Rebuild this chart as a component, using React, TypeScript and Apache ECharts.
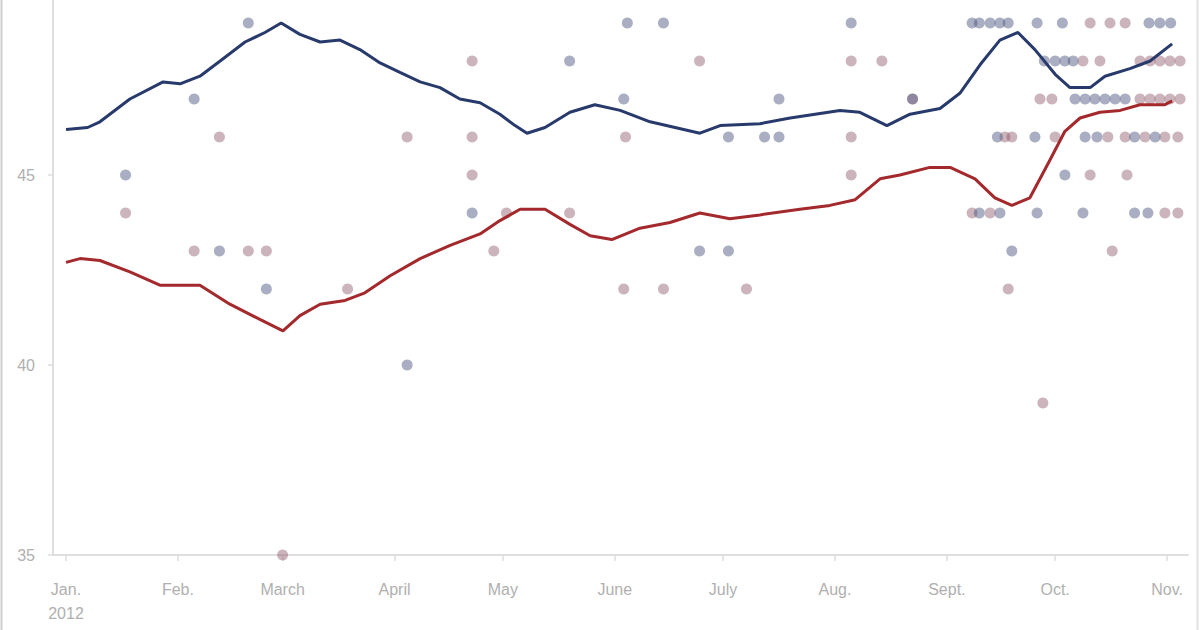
import React, { useEffect, useRef } from "react";
import * as echarts from "echarts";

// Days are counted from Jan. 1, 2012 (day 0).
const monthStarts = [0, 31, 60, 91, 121, 152, 182, 213, 244, 274, 305];
const monthLabels = ["Jan.\n2012", "Feb.", "March", "April", "May", "June", "July", "Aug.", "Sept.", "Oct.", "Nov."];
const yTicks = [35, 40, 45, 50];

// Poll averages
const obamaAvg: [number, number][] = [
  [0, 46.2], [6, 46.25], [9.4, 46.4], [17.7, 47.0], [26.9, 47.45], [31.6, 47.4], [37.1, 47.6],
  [42.7, 48.0], [49.6, 48.5], [55.1, 48.75], [59.6, 49.0], [64.8, 48.7], [70.4, 48.5],
  [75.9, 48.55], [81.4, 48.3], [87, 47.95], [92.5, 47.7], [98.1, 47.45], [103.6, 47.3],
  [109.1, 47.0], [114.7, 46.9], [120.2, 46.6], [124.4, 46.3], [127.7, 46.1], [132.7, 46.25],
  [139.6, 46.65], [146.5, 46.85], [153.5, 46.7], [161.8, 46.4], [168.7, 46.25], [175.6, 46.1],
  [181.2, 46.3], [192.2, 46.35], [200.6, 46.5], [214.4, 46.7], [219.9, 46.65], [227.4, 46.3],
  [233.8, 46.6], [242.1, 46.75], [247.6, 47.15], [253.2, 47.9], [258.7, 48.55], [263.7, 48.75],
  [268.4, 48.3], [274, 47.65], [278.1, 47.3], [283.7, 47.3], [287.8, 47.6], [294.7, 47.8],
  [300.3, 48.0], [306.4, 48.45],
];
const romneyAvg: [number, number][] = [
  [0, 42.7], [3.9, 42.8], [9.4, 42.75], [17.7, 42.45], [26, 42.1], [37.1, 42.1], [45.4, 41.6],
  [53.7, 41.2], [60.1, 40.9], [64.8, 41.3], [70.4, 41.6], [77.3, 41.7], [82.8, 41.9],
  [89.8, 42.35], [98.1, 42.8], [106.4, 43.15], [114.7, 43.45], [120.2, 43.8], [125.8, 44.1],
  [132.7, 44.1], [139.6, 43.7], [145.2, 43.4], [151.2, 43.3], [159, 43.6], [167.3, 43.75],
  [175.6, 44.0], [183.9, 43.85], [192.2, 43.95], [203.3, 44.1], [211.6, 44.2], [218.6, 44.35],
  [225.5, 44.9], [231, 45.0], [239.3, 45.2], [244.9, 45.2], [251.8, 44.9], [257.3, 44.4],
  [262, 44.2], [267, 44.4], [272.6, 45.4], [276.7, 46.15], [280.9, 46.5], [286.4, 46.65],
  [292, 46.7], [297.5, 46.85], [304.4, 46.85], [306.4, 46.95],
];

// Individual polls
const obamaPolls: [number, number][] = [
  [16.5, 45], [35.5, 47], [42.5, 43], [50.5, 49], [55.5, 42], [94.5, 40], [112.5, 44],
  [139.5, 48], [155.5, 49], [154.5, 47], [165.5, 49], [175.5, 43], [183.5, 46], [183.5, 43],
  [193.5, 46], [197.5, 46], [197.5, 47], [217.5, 49], [234.5, 47],
  [251, 49], [253, 49], [256, 49], [258.7, 49], [261, 49], [269, 49], [276, 49], [300, 49], [303, 49], [306, 49],
  [271, 48], [274, 48], [276.7, 48], [279, 48],
  [279.5, 47], [282.3, 47], [285, 47], [287.8, 47], [290.6, 47], [293.4, 47],
  [258, 46], [268.4, 46], [282.3, 46], [285.6, 46], [296, 46], [301.7, 46],
  [276.7, 45],
  [253, 44], [258.7, 44], [269, 44], [281.7, 44], [296, 44], [299.7, 44],
  [262, 43],
];
const romneyPolls: [number, number][] = [
  [16.5, 44], [35.5, 43], [42.5, 46], [50.5, 43], [55.5, 43], [60, 35], [78, 42], [94.5, 46],
  [112.5, 48], [112.5, 46], [112.5, 45], [118.5, 43], [122, 44], [139.5, 44], [155, 46],
  [154.5, 42], [165.5, 42], [175.5, 48], [188.5, 42], [217.5, 48], [217.5, 46], [217.5, 45],
  [226, 48], [234.5, 47],
  [283.7, 49], [289.2, 49], [293.4, 49],
  [281.7, 48], [286.4, 48], [297.5, 48], [300.3, 48], [303, 48], [305.8, 48], [308.6, 48],
  [269.8, 47], [273.1, 47], [297.5, 47], [300.3, 47], [303, 47], [305.8, 47], [308.6, 47],
  [260.1, 46], [262, 46], [274, 46], [288.6, 46], [293.4, 46], [298.9, 46], [304.4, 46], [308, 46],
  [283.7, 45], [293.9, 45],
  [251, 44], [256, 44], [304.4, 44], [308, 44],
  [289.8, 43], [261, 42], [270.6, 39],
];

const OFFSET = 40; // chart div starts above the page so the 50 line is cut off

export default function App() {
  const ref = useRef<HTMLDivElement>(null);

  useEffect(() => {
    document.body.style.margin = "0";
    document.body.style.overflow = "hidden";
    if (!ref.current) return;
    const chart = echarts.init(ref.current, null, { renderer: "svg" });
    const labelMap: Record<number, string> = {};
    monthStarts.forEach((d, i) => (labelMap[d] = monthLabels[i]));
    const axisColor = "#dedede";
    const textColor = "#b0b0b0";
    const font = "'Liberation Sans', Arial, sans-serif";

    chart.setOption({
      animation: false,
      backgroundColor: "#ffffff",
      grid: { left: 53, right: 12, top: OFFSET - 15, bottom: 75 },
      xAxis: {
        type: "value",
        min: -3.6,
        max: 310.8,
        splitLine: { show: false },
        axisLine: { show: true, onZero: false, lineStyle: { color: axisColor, width: 2 } },
        axisTick: { show: true, customValues: monthStarts, length: 6, lineStyle: { color: axisColor, width: 1.5 } },
        axisLabel: {
          customValues: monthStarts,
          formatter: (v: number) => labelMap[v] ?? "",
          color: textColor,
          fontSize: 16,
          lineHeight: 24,
          margin: 22,
          fontFamily: font,
        },
      },
      yAxis: {
        type: "value",
        min: 35,
        max: 50,
        interval: 5,
        splitLine: { show: false },
        axisLine: { show: true, onZero: false, lineStyle: { color: axisColor, width: 2 } },
        axisTick: { show: true, length: 5, lineStyle: { color: axisColor, width: 1.5 } },
        axisLabel: {
          customValues: yTicks,
          color: textColor,
          fontSize: 16,
          margin: 18,
          fontFamily: font,
        },
      },
      graphic: [
        { type: "line", shape: { x1: 1.5, y1: 0, x2: 1.5, y2: 630 + OFFSET }, style: { stroke: "#cfcfcf", lineWidth: 2 } },
        { type: "line", shape: { x1: 1197.5, y1: 0, x2: 1197.5, y2: 630 + OFFSET }, style: { stroke: "#e2e2e2", lineWidth: 2 } },
      ],
      series: [
        {
          name: "Romney polls",
          type: "scatter",
          data: romneyPolls,
          symbolSize: 11,
          itemStyle: { color: "rgba(140, 85, 102, 0.55)" },
          z: 1,
        },
        {
          name: "Obama polls",
          type: "scatter",
          data: obamaPolls,
          symbolSize: 11,
          itemStyle: { color: "rgba(75, 86, 128, 0.6)" },
          z: 1,
        },
        {
          name: "Romney",
          type: "line",
          data: romneyAvg,
          showSymbol: false,
          lineStyle: { color: "#a3292c", width: 3 },
          z: 3,
        },
        {
          name: "Obama",
          type: "line",
          data: obamaAvg,
          showSymbol: false,
          lineStyle: { color: "#283a6c", width: 3 },
          z: 3,
        },
      ],
    });
    return () => chart.dispose();
  }, []);

  return (
    <div
      ref={ref}
      style={{ position: "absolute", left: 0, top: -OFFSET, width: 1200, height: 630 + OFFSET }}
    />
  );
}
